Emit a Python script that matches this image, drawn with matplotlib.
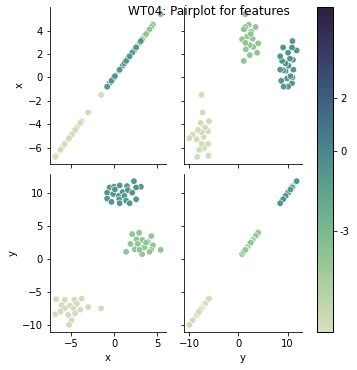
import numpy as np
import matplotlib
matplotlib.use("Agg")
import matplotlib.pyplot as plt
import seaborn as sns

# cluster A (light)
xa = [-6.7, -5.7, -4.6, -3.75, -6.05, -5.1, -4.3, -3.0, -1.5, -6.8, -5.7, -4.7, -3.9, -5.3, -4.5, -4.9, -5.2, -6.2]
ya = [-6.1, -6.2, -6.2, -6.0, -7.0, -7.1, -6.8, -7.3, -7.5, -8.4, -7.5, -7.5, -7.7, -8.5, -8.25, -9.3, -10.0, -8.0]
# cluster B (green)
xb = [2.1, 2.9, 4.3, 1.9, 2.6, 3.3, 3.9, 4.5, 2.75, 3.5, 4.3, 2.4, 1.4, 3.25, 4.1, 5.4, 3.7, 2.95]
yb = [3.8, 4.0, 3.5, 2.3, 3.0, 2.9, 2.6, 2.1, 2.3, 1.8, 1.4, 1.5, 1.1, 0.75, 1.1, 1.4, 2.5, 1.4]
# cluster C (teal)
xc = [-0.5, 0.0, 0.65, 1.5, 2.3, 3.1, 2.55, -0.8, -0.1, 0.55, 1.0, 1.6, 2.1, -0.8, -0.3, 0.6, 1.2, 1.4, 1.8, 2.55, 0.65, 0.1]
yc = [10.9, 11.0, 11.2, 11.1, 11.85, 11.0, 10.9, 10.1, 9.9, 9.6, 10.2, 10.5, 10.1, 9.2, 8.7, 9.1, 9.6, 8.9, 8.5, 9.1, 8.5, 10.6]
hue_levels = [-6.5, -4.0, -0.8]

cbar_ticks = [-3, 0, 2]
cbar_labels = ["-3", "0", "2"]

x = np.array(xa + xb + xc)
y = np.array(ya + yb + yc)
hue = np.array([hue_levels[0]] * len(xa) + [hue_levels[1]] * len(xb) + [hue_levels[2]] * len(xc))

cmap = sns.cubehelix_palette(start=.5, rot=-.75, as_cmap=True)
norm = plt.Normalize(x.min(), x.max())

W, H = 357, 370
fig = plt.figure(figsize=(W / 72, H / 72), dpi=72)
plt.rcParams['font.size'] = 10

def px(l, t, r, b):
    return [l / W, 1 - b / H, (r - l) / W, (b - t) / H]

ax00 = fig.add_axes(px(50, 7, 166, 164))
ax01 = fig.add_axes(px(184, 7, 302, 164), sharey=ax00)
ax10 = fig.add_axes(px(50, 174, 166, 332), sharex=ax00)
ax11 = fig.add_axes(px(184, 174, 302, 332), sharex=ax01, sharey=ax10)

data = {"x": x, "y": y}
grid = [[(ax00, "x", "x"), (ax01, "y", "x")], [(ax10, "x", "y"), (ax11, "y", "y")]]
for row in grid:
    for ax, cx, cy in row:
        ax.scatter(data[cx], data[cy], c=hue, cmap=cmap, norm=norm, s=42,
                   edgecolor="white", linewidth=0.6)
        ax.spines["top"].set_visible(False)
        ax.spines["right"].set_visible(False)

ax00.set_xticks([-5, 0, 5])
ax01.set_xticks([-10, 0, 10])
ax00.set_yticks([-6, -4, -2, 0, 2, 4])
ax10.set_yticks([-10, -5, 0, 5, 10])
ax00.tick_params(labelbottom=False)
ax01.tick_params(labelbottom=False, labelleft=False)
ax11.tick_params(labelleft=False)
ax00.set_ylabel("x")
ax10.set_ylabel("y")
ax10.set_xlabel("x")
ax11.set_xlabel("y")

cax = fig.add_axes(px(317, 7, 333, 332))
sm = plt.cm.ScalarMappable(norm=norm, cmap=cmap)
cb = fig.colorbar(sm, cax=cax)
cb.set_ticks(cbar_ticks)
cb.set_ticklabels(cbar_labels)
cb.outline.set_linewidth(1)

fig.text(209 / W, 1 - 12 / H, "WT04: Pairplot for features", ha="center", va="center", fontsize=12)

fig.savefig("out.png", dpi=72)
